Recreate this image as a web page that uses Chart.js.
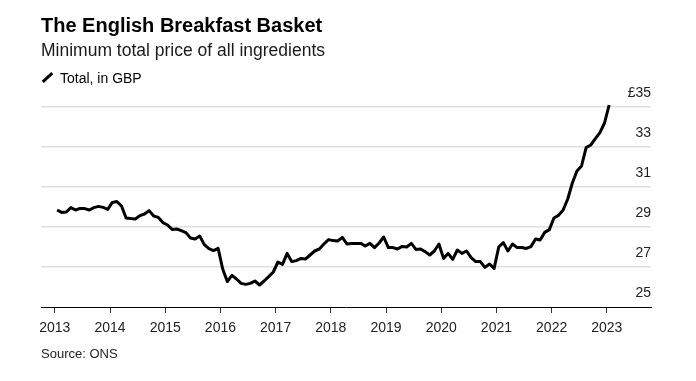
<!DOCTYPE html>
<html>
<head>
<meta charset="utf-8">
<script src="https://cdn.jsdelivr.net/npm/chart.js@4.4.1/dist/chart.umd.min.js"></script>
<style>
  html, body { margin: 0; padding: 0; background: #fff; }
  #wrap { position: relative; width: 696px; height: 381px; overflow: hidden; font-family: "Liberation Sans", Arial, Helvetica, sans-serif; }
  #c { position: absolute; left: 0; top: 0; }
  .txt { position: absolute; white-space: nowrap; margin: 0; }
  #title { left: 41px; top: 15px; font-size: 20px; line-height: 20px; font-weight: bold; color: #000; }
  #subtitle { left: 41px; top: 42px; font-size: 17.5px; line-height: 17.5px; color: #1a1a1a; }
  #legend { left: 60px; top: 71px; font-size: 14px; line-height: 14px; color: #000; }
  #legicon { position: absolute; left: 41px; top: 76px; width: 13px; height: 3px; background: #000; transform: rotate(-43deg); }
  #source { left: 41px; top: 347px; font-size: 13px; line-height: 13px; color: #222; }
</style>
</head>
<body>
<div id="wrap">
  <canvas id="c" width="696" height="381"></canvas>
  <div class="txt" id="title">The English Breakfast Basket</div>
  <div class="txt" id="subtitle">Minimum total price of all ingredients</div>
  <div id="legicon"></div>
  <div class="txt" id="legend">Total, in GBP</div>
  <div class="txt" id="source">Source: ONS</div>
</div>
<script>
// Monthly minimum total price (GBP)
const price2013 = [29.85, 29.73, 29.75, 29.97, 29.85, 29.93, 29.92, 29.85, 29.97, 30.03, 29.98, 29.88];
const price2014 = [30.23, 30.27, 30.05, 29.45, 29.42, 29.40, 29.57, 29.65, 29.82, 29.55, 29.48, 29.22];
const price2015 = [29.10, 28.88, 28.90, 28.82, 28.72, 28.45, 28.40, 28.55, 28.12, 27.92, 27.82, 27.93];
const price2016 = [26.90, 26.27, 26.58, 26.40, 26.18, 26.13, 26.18, 26.30, 26.10, 26.30, 26.52, 26.75];
const price2017 = [27.25, 27.13, 27.68, 27.27, 27.32, 27.43, 27.40, 27.60, 27.80, 27.90, 28.15, 28.37];
const price2018 = [28.32, 28.30, 28.48, 28.15, 28.18, 28.18, 28.18, 28.05, 28.18, 27.97, 28.20, 28.50];
const price2019 = [27.97, 27.97, 27.90, 28.03, 28.00, 28.18, 27.88, 27.90, 27.77, 27.60, 27.80, 28.15];
const price2020 = [27.43, 27.68, 27.38, 27.85, 27.68, 27.80, 27.47, 27.27, 27.27, 26.98, 27.15, 26.93];
const price2021 = [28.00, 28.22, 27.80, 28.15, 27.97, 27.97, 27.93, 28.02, 28.40, 28.35, 28.73, 28.87];
const price2022 = [29.45, 29.58, 29.85, 30.40, 31.20, 31.80, 32.05, 32.97, 33.10, 33.42, 33.72, 34.20];
const price2023 = [35.10];

const dataYears = [2013, 2014, 2015, 2016, 2017, 2018, 2019, 2020, 2021, 2022, 2023];
const yearSeries = [price2013, price2014, price2015, price2016, price2017, price2018, price2019, price2020, price2021, price2022, price2023];

const xTickValues = [2013, 2014, 2015, 2016, 2017, 2018, 2019, 2020, 2021, 2022, 2023];
const xTickLabels = ['2013', '2014', '2015', '2016', '2017', '2018', '2019', '2020', '2021', '2022', '2023'];
const yTickValues = [25, 27, 29, 31, 33, 35];
const yTickLabels = ['25', '27', '29', '31', '33', '£35'];

// build {x: decimal year (mid-month), y: price}
const points = [];
dataYears.forEach((yr, k) => {
  yearSeries[k].forEach((v, m) => points.push({ x: yr + (m + 0.5) / 12, y: v }));
});

const FONT = '"Liberation Sans", Arial, Helvetica, sans-serif';

new Chart(document.getElementById('c'), {
  type: 'line',
  data: {
    datasets: [{
      label: 'Total, in GBP',
      data: points,
      borderColor: '#000',
      borderWidth: 3,
      pointRadius: 0,
      tension: 0,
      borderJoinStyle: 'round',
      fill: false
    }]
  },
  options: {
    responsive: false,
    devicePixelRatio: 1,
    animation: false,
    layout: { padding: { left: 41, right: 45, top: 95, bottom: 0 } },
    plugins: { legend: { display: false }, title: { display: false }, tooltip: { enabled: false } },
    scales: {
      x: {
        type: 'linear',
        position: 'bottom',
        min: 2012.75,
        max: 2023.80,
        afterBuildTicks: s => { s.ticks = xTickValues.map(v => ({ value: v })); },
        afterFit: s => { s.height = 74; },
        grid: { drawOnChartArea: false, drawTicks: true, tickLength: 6, color: '#333', lineWidth: 1 },
        border: { display: true, color: '#000', width: 1 },
        ticks: {
          autoSkip: false,
          maxRotation: 0,
          padding: 7,
          color: '#222',
          font: { family: FONT, size: 14 },
          callback: (v) => { const i = xTickValues.indexOf(v); return i >= 0 ? xTickLabels[i] : null; }
        }
      },
      y: {
        type: 'linear',
        position: 'right',
        min: 25,
        max: 35.6,
        afterBuildTicks: s => { s.ticks = yTickValues.map(v => ({ value: v })); },
        afterFit: s => { s.width = 0; },
        grid: {
          drawTicks: false,
          color: ctx => (ctx.tick && ctx.tick.value === 25) ? 'rgba(0,0,0,0)' : '#e0e0e0',
          lineWidth: 1.5
        },
        border: { display: false },
        ticks: {
          mirror: true,
          padding: 0,
          labelOffset: -13.5,
          color: '#222',
          font: { family: FONT, size: 14 },
          callback: (v) => { const i = yTickValues.indexOf(v); return i >= 0 ? yTickLabels[i] : null; }
        }
      }
    }
  }
});
</script>
</body>
</html>
